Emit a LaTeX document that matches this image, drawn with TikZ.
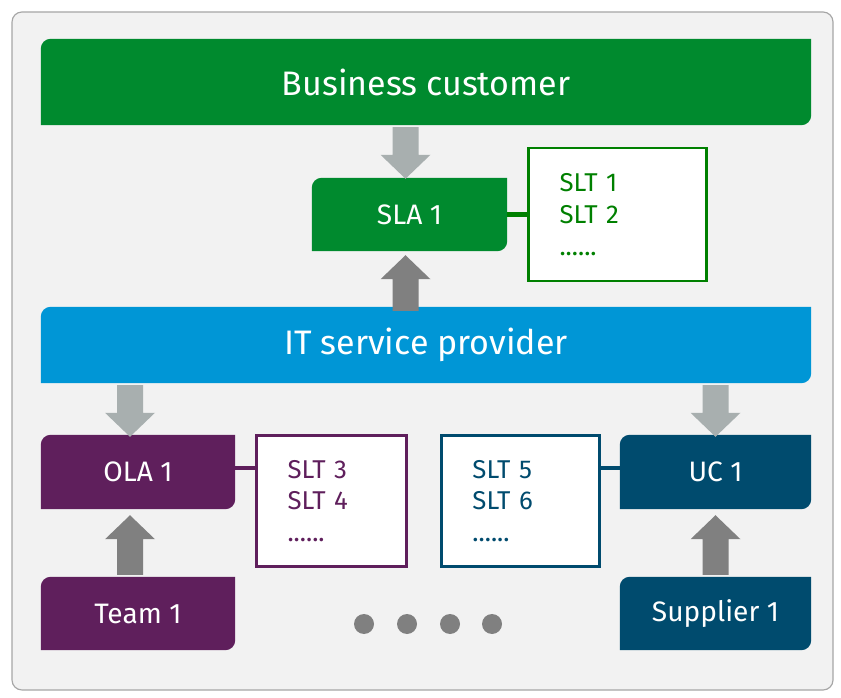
\documentclass[tikz,border=0pt]{standalone}
\usepackage{fontspec}
\setmainfont{Fira Sans}
\usetikzlibrary{calc}

\definecolor{bizgreen}{RGB}{0,138,46}
\definecolor{sltgreen}{RGB}{0,128,0}
\definecolor{itblue}{RGB}{0,150,214}
\definecolor{olapurple}{RGB}{95,31,92}
\definecolor{ucnavy}{RGB}{0,75,110}
\definecolor{arrowlight}{RGB}{168,175,175}
\definecolor{arrowdark}{RGB}{128,128,128}
\definecolor{panel}{RGB}{242,242,242}

\tikzset{
  block/.style={minimum width=#1*0.03cm, inner sep=0pt, text=white},
  slt/.style={draw=#1, line width=3pt*0.75, fill=white, text=#1, align=left,
    font=\fontsize{22}{27}\selectfont, inner xsep=0.63cm, inner ysep=0pt},
  link/.style={draw=#1, line width=4pt}
}

% fill a block with rounded top-left and bottom-right corners
\newcommand\blockfill[2]{%
  \fill[#2] (#1.south west) -- ($(#1.north west)+(0,-10)$)
    arc[start angle=180, end angle=90, radius=0.3cm] -- (#1.north east)
    -- ($(#1.south east)+(0,10)$)
    arc[start angle=0, end angle=-90, radius=0.3cm] -- cycle;}

% block arrow: colour, base, tip, head offset
\newcommand\blockarrow[4]{%
  \coordinate (b) at #2; \coordinate (t) at #3;
  \coordinate (h) at ($(t)+(0,#4)$);
  \fill[#1] ($(b)+(-13,0)$) -- ($(b)+(13,0)$) -- ($(h)+(13,0)$) -- ($(h)+(25,0)$)
    -- (t) -- ($(h)+(-25,0)$) -- ($(h)+(-13,0)$) -- cycle;}

\begin{document}
\begin{tikzpicture}[x=0.03cm, y=0.03cm]
\useasboundingbox (0,0) rectangle (841,697);
\draw[fill=panel, draw=gray!70, line width=1pt, rounded corners=0.3cm] (12,7) rectangle (833,685);

% nodes
\node[block=770, minimum height=86*0.03cm, font=\fontsize{29}{32}\selectfont] (biz) at (426,615) {Business customer};
\node[block=195, minimum height=73*0.03cm, font=\fontsize{24}{28}\selectfont] (sla) at (409.5,482.5) {SLA 1};
\node[block=770, minimum height=76*0.03cm, font=\fontsize{29}{32}\selectfont] (it) at (426,352) {IT service provider};
\node[block=194, minimum height=74*0.03cm, font=\fontsize{24}{28}\selectfont] (ola) at (138,225) {OLA 1};
\node[block=191, minimum height=74*0.03cm, font=\fontsize{24}{28}\selectfont] (uc) at (715.5,225) {UC 1};
\node[block=194, minimum height=73*0.03cm, font=\fontsize{24}{28}\selectfont] (team) at (138,83.5) {Team 1};
\node[block=191, minimum height=73*0.03cm, font=\fontsize{24}{28}\selectfont] (sup) at (715.5,83.5) {Supplier 1};

\begin{scope}[on background layer/.style={}]
\blockfill{biz}{bizgreen}
\blockfill{sla}{bizgreen}
\blockfill{it}{itblue}
\blockfill{ola}{olapurple}
\blockfill{uc}{ucnavy}
\blockfill{team}{olapurple}
\blockfill{sup}{ucnavy}
\end{scope}
\node[font=\fontsize{29}{32}\selectfont, text=white] at (biz) {Business customer};
\node[font=\fontsize{24}{28}\selectfont, text=white] at (sla) {SLA 1};
\node[font=\fontsize{29}{32}\selectfont, text=white] at (it) {IT service provider};
\node[font=\fontsize{24}{28}\selectfont, text=white] at (ola) {OLA 1};
\node[font=\fontsize{24}{28}\selectfont, text=white] at (uc) {UC 1};
\node[font=\fontsize{24}{28}\selectfont, text=white] at (team) {Team 1};
\node[font=\fontsize{24}{28}\selectfont, text=white] at (sup) {Supplier 1};

% links and target lists
\draw[link=sltgreen] (sla.east) -- ++(20,0) coordinate (s1);
\node[slt=sltgreen, minimum width=178*0.03cm, minimum height=133*0.03cm, text width=116*0.03cm, anchor=west] (slta) at (s1) {SLT 1\\SLT 2\\......};
\draw[link=olapurple] ($(ola.east)+(0,4)$) -- ++(20,0) coordinate (s3);
\node[slt=olapurple, minimum width=150*0.03cm, minimum height=131*0.03cm, text width=88*0.03cm, anchor=west] (sltb) at ($(s3)+(0,-33)$) {SLT 3\\SLT 4\\......};
\draw[link=ucnavy] ($(uc.west)+(0,4)$) -- ++(-19,0) coordinate (s5);
\node[slt=ucnavy, minimum width=158*0.03cm, minimum height=131*0.03cm, text width=96*0.03cm, anchor=east] (sltc) at ($(s5)+(0,-33)$) {SLT 5\\SLT 6\\......};

% arrows
\blockarrow{arrowlight}{($(biz.south -| sla.north)+(-4,-2)$)}{($(sla.north)+(-4,-1)$)}{24}
\blockarrow{arrowdark}{($(it.north -| sla.south)+(-4,-4)$)}{($(sla.south)+(-4,-4)$)}{-24}
\blockarrow{arrowlight}{($(it.south -| ola.north)+(-8,-2)$)}{($(ola.north)+(-8,-2)$)}{24}
\blockarrow{arrowlight}{($(it.south -| uc.north)+(0,-2)$)}{($(uc.north)+(0,-2)$)}{24}
\blockarrow{arrowdark}{($(team.north)+(-8,2)$)}{($(ola.south)+(-8,-6)$)}{-24}
\blockarrow{arrowdark}{($(sup.north)+(0,2)$)}{($(uc.south)+(0,-6)$)}{-24}

% more teams
\foreach \x in {364,407,450,492} \fill[arrowdark] (\x,73) circle[radius=0.3cm];
\end{tikzpicture}
\end{document}
